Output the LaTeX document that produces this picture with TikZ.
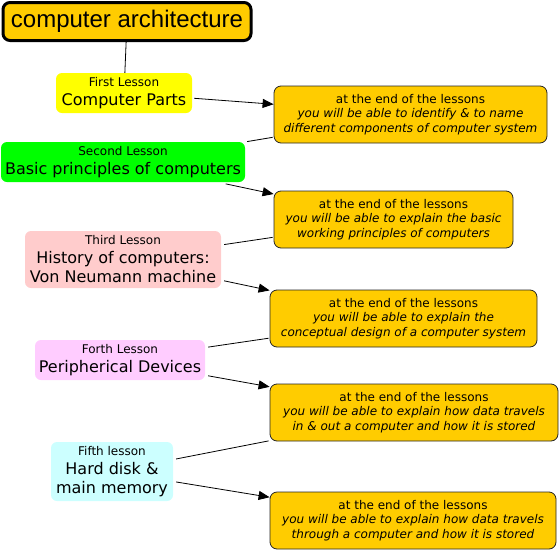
\documentclass[tikz,border=0pt]{standalone}
\usepackage{fontspec}
\setmainfont{DejaVu Sans}
\newfontfamily\titlefont{Liberation Sans}
\usetikzlibrary{arrows.meta}
\definecolor{outc}{RGB}{255,204,0}
\definecolor{lyellow}{RGB}{255,255,0}
\definecolor{lgreen}{RGB}{0,255,0}
\definecolor{lpink}{RGB}{255,204,204}
\definecolor{lmagenta}{RGB}{255,204,255}
\definecolor{lcyan}{RGB}{204,255,255}
\newcommand{\lsm}{\fontsize{12}{14}\selectfont}
\begin{document}
\begin{tikzpicture}[x=1pt,y=-1pt,
  titlebox/.style={draw=black, line width=3pt, fill=outc, rounded corners=7pt, inner sep=0pt,
    minimum width=248pt, minimum height=38pt, font=\titlefont\fontsize{24}{28}\selectfont},
  lesson/.style={rounded corners=6pt, inner sep=0pt, align=center,
    font=\fontsize{16}{19}\selectfont},
  outcome/.style={draw=black!85, fill=outc, line width=0.8pt, rounded corners=7pt, inner sep=0pt,
    align=center, minimum height=57pt, font=\fontsize{12}{14.5}\selectfont},
  link/.style={draw=black, line width=0.8pt},
  arrowlink/.style={link, -{Triangle[length=11pt,width=9pt]}}
]
\useasboundingbox (0,0) rectangle (560,552);

\node[titlebox] (title) at (127,21.5) {computer architecture};

\node[lesson, fill=lyellow, minimum width=136pt, minimum height=40pt] (l1) at (124,93)
  {{\lsm First Lesson}\\Computer Parts};
\node[lesson, fill=lgreen, minimum width=244pt, minimum height=40pt] (l2) at (123,162)
  {{\lsm Second Lesson}\\Basic principles of computers};
\node[lesson, fill=lpink, minimum width=196pt, minimum height=57pt] (l3) at (123,259.5)
  {{\lsm Third Lesson}\\History of computers:\\Von Neumann machine};
\node[lesson, fill=lmagenta, minimum width=170pt, minimum height=40pt] (l4) at (120,360)
  {{\lsm Forth Lesson}\\Peripherical Devices};
\node[lesson, fill=lcyan, minimum width=122pt, minimum height=59pt] (l5) at (112,471.5)
  {{\lsm Fifth lesson}\\Hard disk \&\\main memory};

\node[outcome, minimum width=273pt] (o1) at (410.5,114.5)
  {at the end of the lessons\\\textit{you will be able to identify \& to name}\\\textit{different components of computer system}};
\node[outcome, minimum width=239pt] (o2) at (393.5,219.5)
  {at the end of the lessons\\\textit{you will be able to explain the basic}\\\textit{working principles of computers}};
\node[outcome, minimum width=267pt] (o3) at (403.5,318.5)
  {at the end of the lessons\\\textit{you will be able to explain the}\\\textit{conceptual design of a computer system}};
\node[outcome, minimum width=288pt] (o4) at (414,412.5)
  {at the end of the lessons\\\textit{you will be able to explain how data travels}\\\textit{in \& out a computer and how it is stored}};
\node[outcome, minimum width=286pt] (o5) at (413,520.5)
  {at the end of the lessons\\\textit{you will be able to explain how data travels}\\\textit{through a computer and how it is stored}};

\draw[link] (title) -- (l1);
\draw[arrowlink, shorten <=2pt] (l1) -- (o1);
\draw[link, shorten <=1pt, shorten >=2pt] (o1) -- (l2);
\draw[arrowlink, shorten <=8pt] (l2) -- (o2);
\draw[link, shorten <=1pt, shorten >=3pt] (o2) -- (l3);
\draw[arrowlink, shorten <=3pt] (l3) -- (o3);
\draw[link, shorten <=1pt, shorten >=3pt] (o3) -- (l4);
\draw[arrowlink, shorten <=3pt] (l4) -- (o4);
\draw[link, shorten <=1pt, shorten >=3pt] (o4) -- (l5);
\draw[arrowlink, shorten <=3pt] (l5) -- (o5);
\end{tikzpicture}
\end{document}
